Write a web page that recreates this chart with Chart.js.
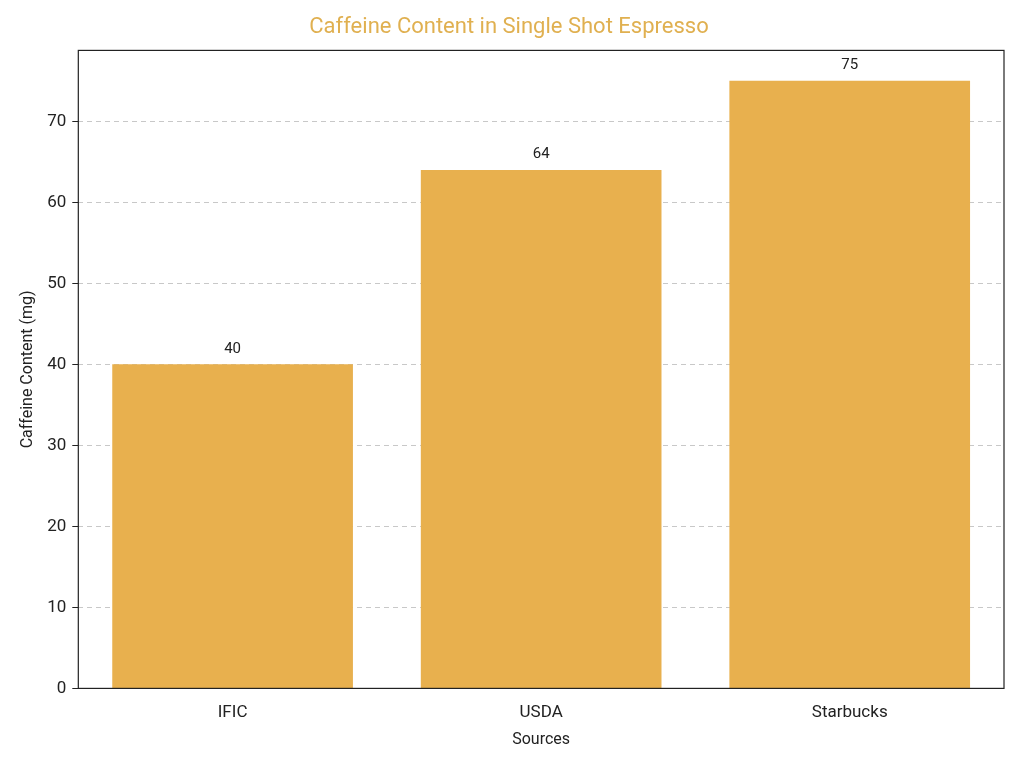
<!DOCTYPE html>
<html>
<head>
<meta charset="utf-8">
<script src="https://cdn.jsdelivr.net/npm/chart.js@4"></script>
<style>
  html, body { margin: 0; padding: 0; background: #fff; }
</style>
</head>
<body>
<canvas id="myBarChart" width="1024" height="768"></canvas>
<script>
const sources = ['IFIC', 'USDA', 'Starbucks'];
const caffeine = [40, 64, 75];
const yTicks = [0, 10, 20, 30, 40, 50, 60, 70];

// draws value above each bar
const barLabels = {
    id: 'barLabels',
    afterDatasetsDraw(chart) {
        const ctx = chart.ctx;
        const meta = chart.getDatasetMeta(0);
        ctx.save();
        ctx.font = '15px Roboto';
        ctx.fillStyle = '#222';
        ctx.textAlign = 'center';
        ctx.textBaseline = 'bottom';
        meta.data.forEach((bar, i) => {
            ctx.fillText(caffeine[i], bar.x, bar.y - 8);
        });
        ctx.restore();
    }
};

// frame around plot area
const frame = {
    id: 'frame',
    afterDraw(chart) {
        const { ctx, chartArea: a } = chart;
        ctx.save();
        ctx.strokeStyle = '#222';
        ctx.lineWidth = 1.2;
        ctx.strokeRect(a.left, a.top, a.right - a.left, a.bottom - a.top);
        ctx.restore();
    }
};

new Chart(document.getElementById('myBarChart'), {
    type: 'bar',
    data: {
        labels: sources,
        datasets: [{
            data: caffeine,
            backgroundColor: '#E8B04E',
            barPercentage: 0.78,
            categoryPercentage: 1.0
        }]
    },
    plugins: [barLabels, frame],
    options: {
        responsive: false,
        animation: false,
        devicePixelRatio: 1,
        layout: { padding: { left: 14, right: 20, top: 4, bottom: 14 } },
        scales: {
            x: {
                grid: { display: false },
                border: { display: false },
                ticks: { color: '#222', font: { family: 'Roboto', size: 17 }, padding: 6, maxRotation: 0 },
                title: { display: true, text: 'Sources', color: '#222', font: { family: 'Roboto', size: 16 }, padding: { top: 2 } }
            },
            y: {
                min: 0,
                max: 78.75,
                afterBuildTicks: (axis) => { axis.ticks = yTicks.map(v => ({ value: v })); },
                grid: { color: '#c8c8c8', drawTicks: true, tickColor: '#222', tickLength: 6 },
                border: { display: false, dash: [5, 4] },
                ticks: { color: '#222', font: { family: 'Roboto', size: 17 }, padding: 6 },
                title: { display: true, text: 'Caffeine Content (mg)', color: '#222', font: { family: 'Roboto', size: 16 }, padding: { bottom: 4 } }
            }
        },
        plugins: {
            legend: { display: false },
            tooltip: { enabled: false },
            title: {
                display: true,
                text: 'Caffeine Content in Single Shot Espresso',
                color: '#E0B050',
                font: { family: 'Roboto', size: 22, weight: 'normal' },
                padding: { top: 10, bottom: 10 }
            }
        }
    }
});
</script>
</body>
</html>
